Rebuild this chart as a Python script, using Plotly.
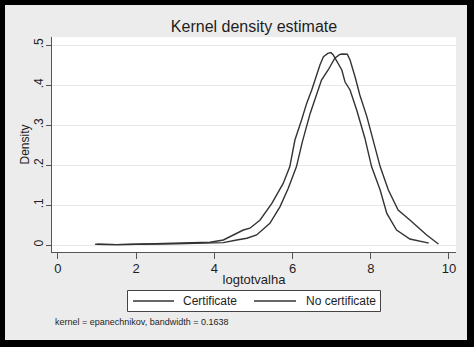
import plotly.graph_objects as go

# ---- data ----
cert_x = [0.95, 1.5, 2.0, 2.5, 3.0, 3.5, 3.89, 4.23, 4.48, 4.74, 4.91, 5.17, 5.47, 5.68, 5.76, 5.93,
          6.06, 6.23, 6.36, 6.49, 6.62, 6.70, 6.79, 6.90, 6.98, 7.04, 7.26, 7.34, 7.47, 7.64, 7.85,
          8.02, 8.24, 8.41, 8.66, 9.00, 9.43, 9.48]
cert_y = [0.002, 0.001, 0.002, 0.003, 0.004, 0.005, 0.007, 0.0125, 0.025, 0.0375, 0.042, 0.0625,
          0.104, 0.142, 0.154, 0.196, 0.2625, 0.3125, 0.354, 0.3875, 0.429, 0.45, 0.471, 0.479,
          0.481, 0.475, 0.4375, 0.408, 0.3875, 0.3375, 0.267, 0.196, 0.1375, 0.079, 0.0375, 0.015,
          0.006, 0.005]

nocert_x = [1.0, 1.5, 2.0, 2.5, 3.0, 3.5, 4.0, 4.23, 4.57, 4.83, 5.08, 5.42, 5.68, 5.89, 6.10,
            6.25, 6.45, 6.62, 6.74, 6.91, 7.08, 7.20, 7.26, 7.40, 7.47, 7.60, 7.72, 7.90, 8.06,
            8.24, 8.45, 8.70, 9.00, 9.43, 9.73]
nocert_y = [0.002, 0.001, 0.002, 0.002, 0.003, 0.004, 0.005, 0.006, 0.0125, 0.017, 0.025, 0.054,
            0.096, 0.142, 0.196, 0.258, 0.329, 0.379, 0.4125, 0.4375, 0.467, 0.476, 0.4775, 0.477,
            0.4625, 0.42, 0.375, 0.321, 0.2625, 0.196, 0.1375, 0.0875, 0.0625, 0.025, 0.0025]

series_names = ["Certificate", "No certificate"]

x_ticks = [0, 2, 4, 6, 8, 10]
x_tick_labels = ["0", "2", "4", "6", "8", "10"]
y_ticks = [0, 0.1, 0.2, 0.3, 0.4, 0.5]
y_tick_labels = ["0", ".1", ".2", ".3", ".4", ".5"]

W, H = 474, 347
ML, MR, MT, MB = 52, 18, 37, 95
PW, PH = W - ML - MR, H - MT - MB

def px2x(px):
    return (px - ML) / PW

def py2y(py):
    return (H - MB - py) / PH

FONT = "Liberation Sans, Arial, sans-serif"
TXT = "#1e1e1e"
LINE = "#333333"

fig = go.Figure()
fig.add_trace(go.Scatter(x=cert_x, y=cert_y, mode="lines", name=series_names[0],
                         line=dict(color=LINE, width=1.4)))
fig.add_trace(go.Scatter(x=nocert_x, y=nocert_y, mode="lines", name=series_names[1],
                         line=dict(color=LINE, width=1.4)))

shapes = []
# black frame around the graph region
for (x0, y0, x1, y1) in [(0, 0, W, 5), (0, 0, 5, H), (467, 0, W, H), (0, 340, W, H)]:
    shapes.append(dict(type="rect", xref="paper", yref="paper",
                       x0=px2x(x0), x1=px2x(x1), y0=py2y(y1), y1=py2y(y0),
                       fillcolor="#000000", line=dict(width=0), layer="above"))

# legend box (Stata style)
LEG_Y = 301
shapes.append(dict(type="rect", xref="paper", yref="paper",
                   x0=px2x(127.5), x1=px2x(380.5), y0=py2y(311.5), y1=py2y(290.5),
                   fillcolor="#ffffff", line=dict(color="#444444", width=1), layer="above"))
legend_items = [(133, 174, 181), (254, 296, 304)]
annotations = []
for (lx0, lx1, tx), name in zip(legend_items, series_names):
    shapes.append(dict(type="line", xref="paper", yref="paper",
                       x0=px2x(lx0), x1=px2x(lx1), y0=py2y(LEG_Y), y1=py2y(LEG_Y),
                       line=dict(color=LINE, width=1.4), layer="above"))
    annotations.append(dict(text=name, xref="paper", yref="paper", x=px2x(tx), y=py2y(LEG_Y),
                            xanchor="left", yanchor="middle", showarrow=False,
                            font=dict(size=12, color=TXT)))

annotations.append(dict(text="kernel = epanechnikov, bandwidth = 0.1638", xref="paper", yref="paper",
                        x=px2x(53), y=py2y(322), xanchor="left", yanchor="middle", showarrow=False,
                        font=dict(size=9, color=TXT)))

fig.update_layout(
    width=W, height=H,
    margin=dict(l=ML, r=MR, t=MT, b=MB),
    paper_bgcolor="#ececec",
    plot_bgcolor="#ffffff",
    font=dict(family=FONT, size=12, color=TXT),
    title=dict(text="Kernel density estimate", x=px2x(254), xref="paper", xanchor="center",
               y=1 - 26 / H, yref="container", yanchor="middle",
               font=dict(family=FONT, size=16, color=TXT)),
    xaxis=dict(range=[-0.153, 10.18], tickvals=x_ticks, ticktext=x_tick_labels,
               showgrid=False, zeroline=False, showline=True, linecolor="#555555", linewidth=1,
               ticks="outside", ticklen=6, tickcolor="#555555", ticklabelstandoff=-2,
               tickfont=dict(size=13, color=TXT),
               title=dict(text="logtotvalha", standoff=0, font=dict(size=13, color=TXT))),
    yaxis=dict(range=[-0.0175, 0.52], tickvals=y_ticks, ticktext=y_tick_labels,
               showgrid=True, gridcolor="#e8e8e8", gridwidth=1, zeroline=False,
               showline=True, linecolor="#555555", linewidth=1,
               ticks="outside", ticklen=5, tickcolor="#555555", tickangle=-90,
               ticklabelstandoff=-2,
               tickfont=dict(size=12, color=TXT),
               title=dict(text="Density", standoff=0, font=dict(size=12, color=TXT))),
    showlegend=False,
    shapes=shapes,
    annotations=annotations,
)

fig.write_html("out.html")
